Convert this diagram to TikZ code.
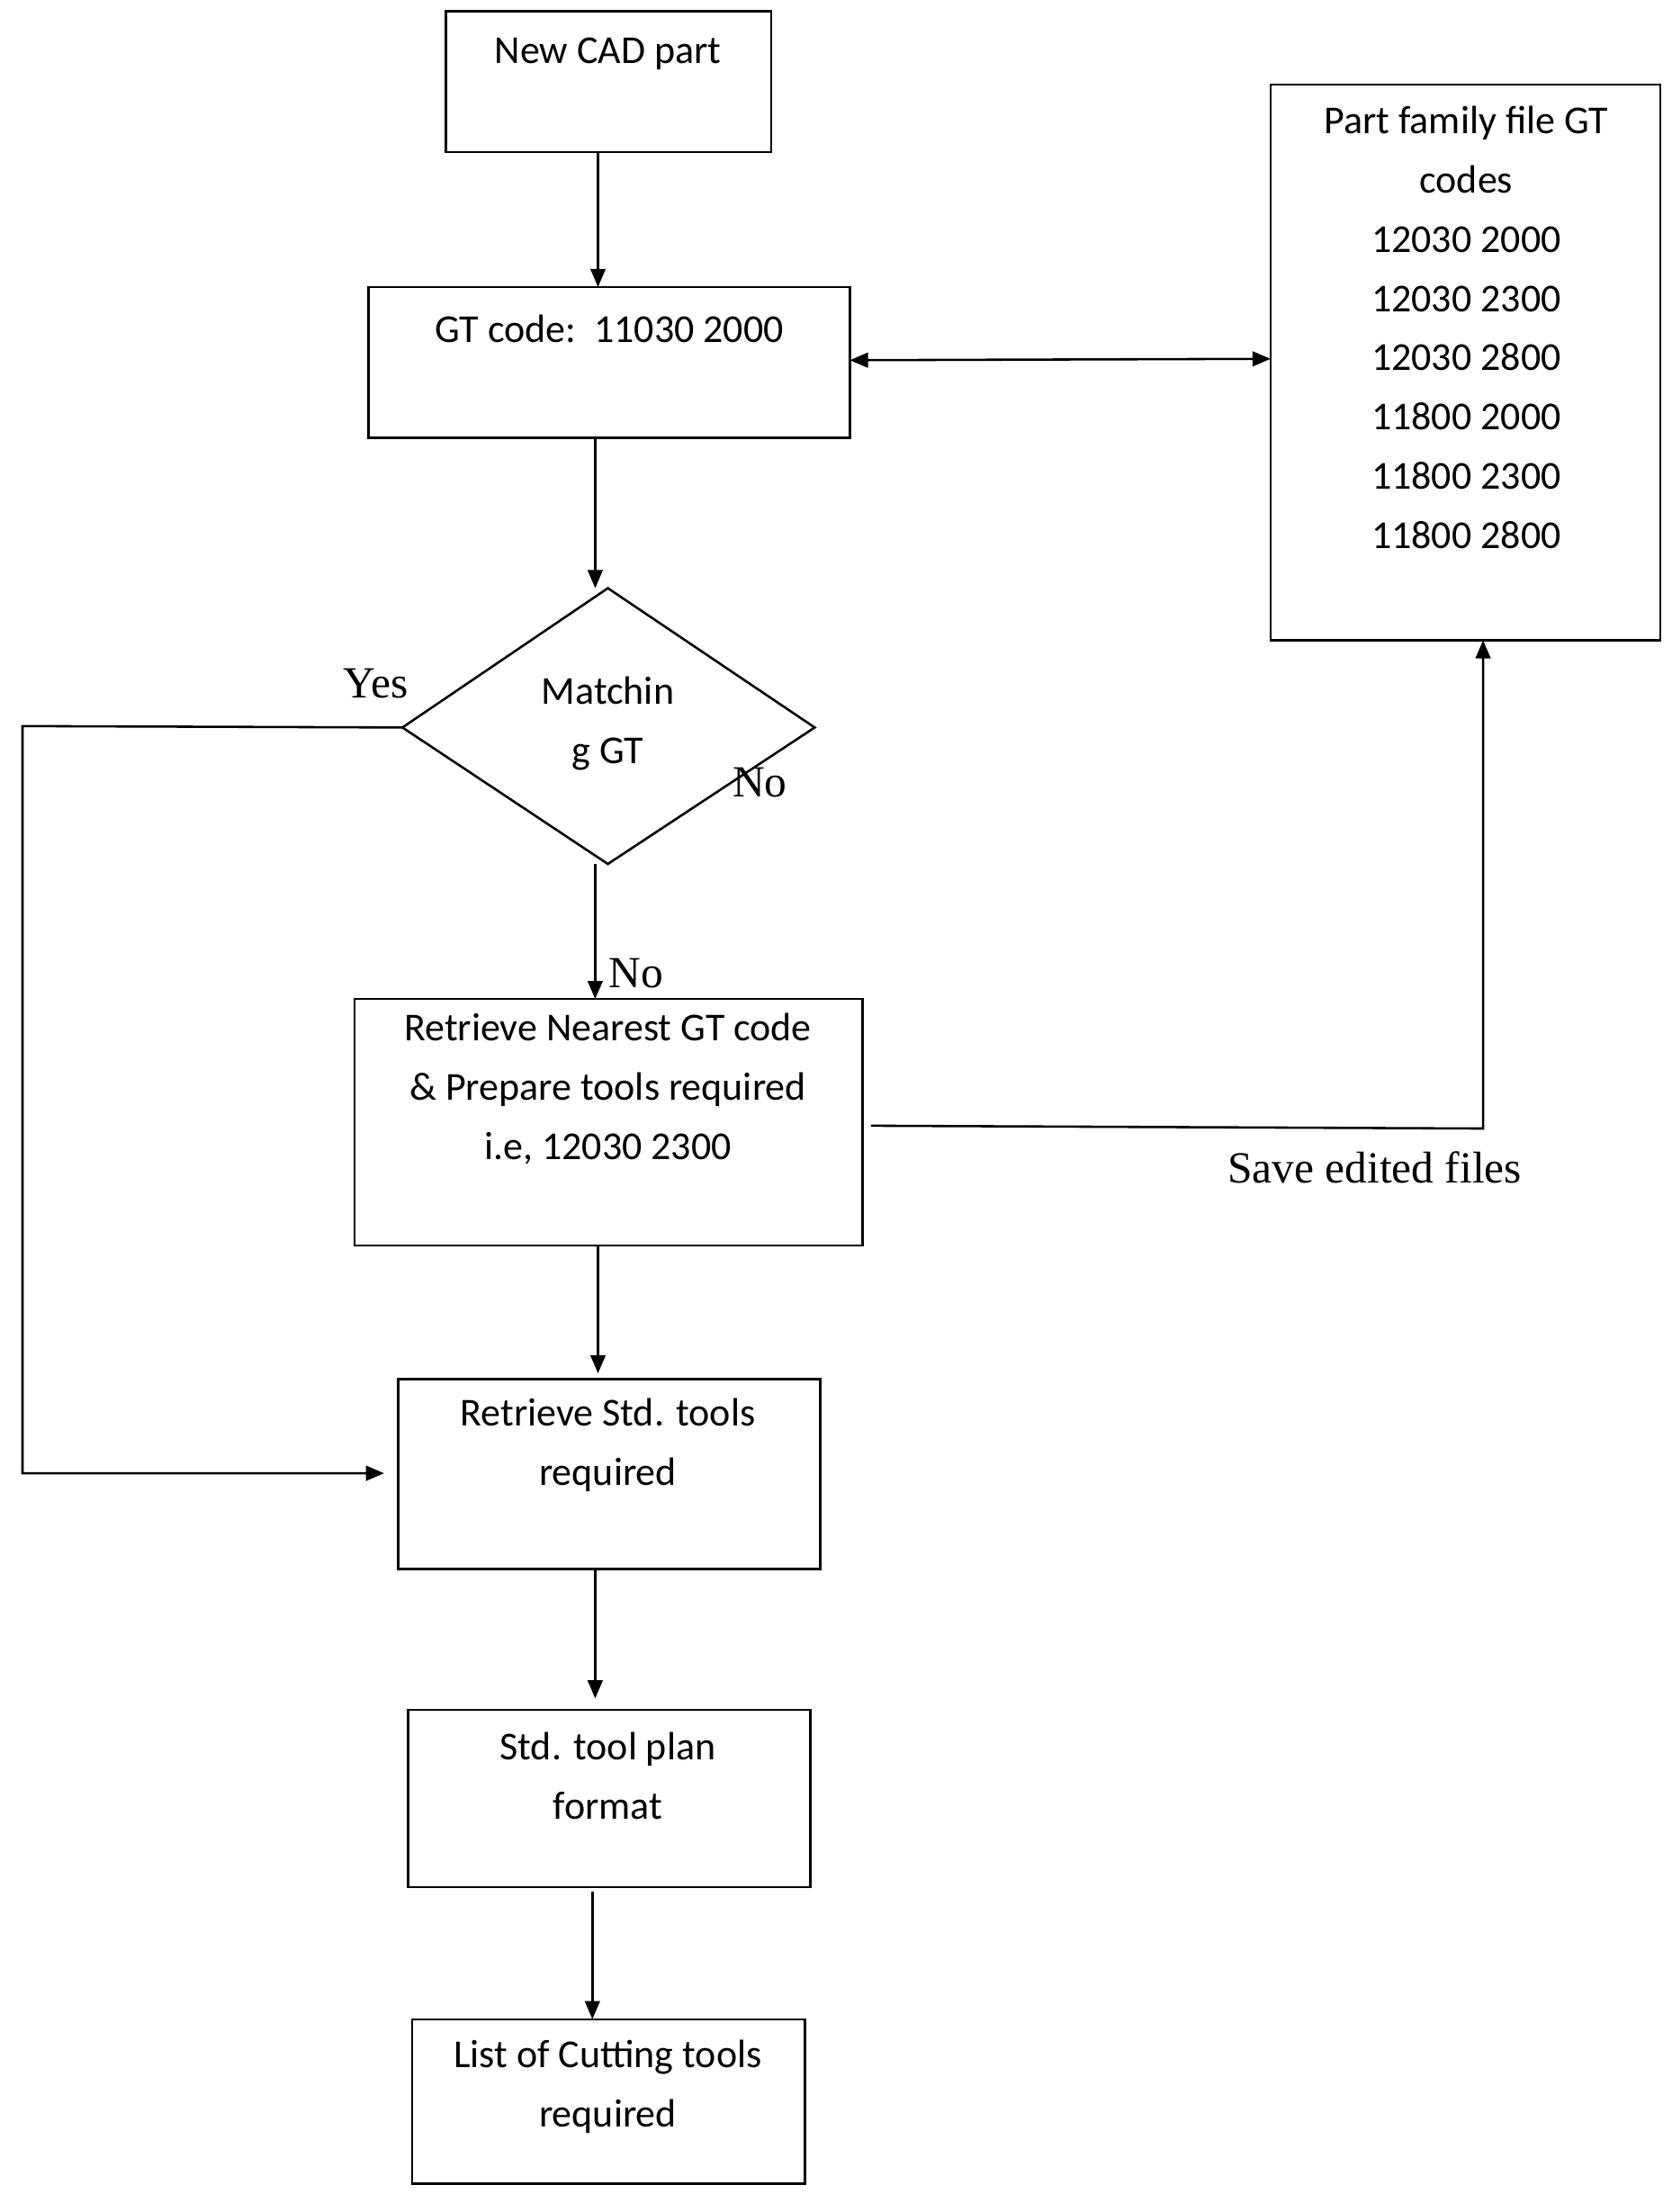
\documentclass[tikz,border=0pt]{standalone}
\usepackage{fontspec}
\setmainfont{Carlito}
\newfontfamily\serif{Liberation Serif}
\usetikzlibrary{arrows.meta}
\begin{document}
\begin{tikzpicture}[x=0.03cm,y=-0.03cm,
  box/.style={draw,line width=1.4pt},
  txt/.style={font=\fontsize{24}{30}\selectfont,align=center,inner sep=0pt},
  lab/.style={font=\serif\fontsize{27}{32}\selectfont,inner sep=0pt},
  arr/.style={line width=1.4pt,-{Triangle[length=11pt,width=9pt]}}]
\useasboundingbox (0,0) rectangle (1188,1572);
\draw[box] (317,8) rectangle (548,108) coordinate (b1);
\node[txt] (t1) at (432,38) {New CAD part};
\draw[box] (262,204) rectangle (604,311);
\node[txt] (t2) at (433,234) {GT code:\ \ 11030 2000};
\draw[box] (903,60) rectangle (1180,455);
\node[txt,anchor=north,font=\fontsize{24}{36}\selectfont] (t3) at (1042,75) {Part family file GT\\codes\\12030 2000\\12030 2300\\12030 2800\\11800 2000\\11800 2300\\11800 2800};
\draw[box] (286,517) -- (432,418) -- (579,517) -- (432,614) -- cycle;
\node[txt,font=\fontsize{24}{36}\selectfont] (t4) at (432,514) {Matchin\\g GT};
\draw[box] (252,710) rectangle (613,885);
\node[txt,font=\fontsize{24}{36}\selectfont] (t5) at (432,774) {Retrieve Nearest GT code\\\& Prepare tools required\\i.e, 12030 2300};
\draw[box] (283,980) rectangle (583,1115);
\node[txt,font=\fontsize{24}{36}\selectfont] (t6) at (432,1027) {Retrieve Std. tools\\required};
\draw[box] (290,1215) rectangle (576,1341);
\node[txt,font=\fontsize{24}{36}\selectfont] (t7) at (432,1262) {Std. tool plan\\format};
\draw[box] (293,1435) rectangle (572,1552);
\node[txt,font=\fontsize{24}{36}\selectfont] (t8) at (432,1483) {List of Cutting tools\\required};
\node[lab] (yes) at (267,486) {Yes};
\node[lab] (no1) at (540,556) {No};
\node[lab] (no2) at (452,692) {No};
\node[lab] (save) at (977,830) {Save edited files};
\coordinate (a1) at (425,108); \coordinate (a2) at (425,204);
\draw[arr] (a1) -- (a2);
\coordinate (c1) at (423,311); \coordinate (c2) at (423,418);
\draw[arr] (c1) -- (c2);
\coordinate (d1) at (604,256); \coordinate (d2) at (903,255);
\draw[line width=1.4pt,{Triangle[length=11pt,width=9pt]}-{Triangle[length=11pt,width=9pt]}] (d1) -- (d2);
\coordinate (e1) at (423,614); \coordinate (e2) at (423,710);
\draw[arr] (e1) -- (e2);
\coordinate (y1) at (286,517); \coordinate (y2) at (16,516); \coordinate (y3) at (16,1047); \coordinate (y4) at (273,1047);
\draw[arr] (y1) -- (y2) -- (y3) -- (y4);
\coordinate (s1) at (619,800); \coordinate (s2) at (1054,802); \coordinate (s3) at (1054,455);
\draw[arr] (s1) -- (s2) -- (s3);
\coordinate (f1) at (425,885); \coordinate (f2) at (425,976);
\draw[arr] (f1) -- (f2);
\coordinate (g1) at (423,1115); \coordinate (g2) at (423,1207);
\draw[arr] (g1) -- (g2);
\coordinate (h1) at (421,1344); \coordinate (h2) at (421,1435);
\draw[arr] (h1) -- (h2);
\end{tikzpicture}
\end{document}
